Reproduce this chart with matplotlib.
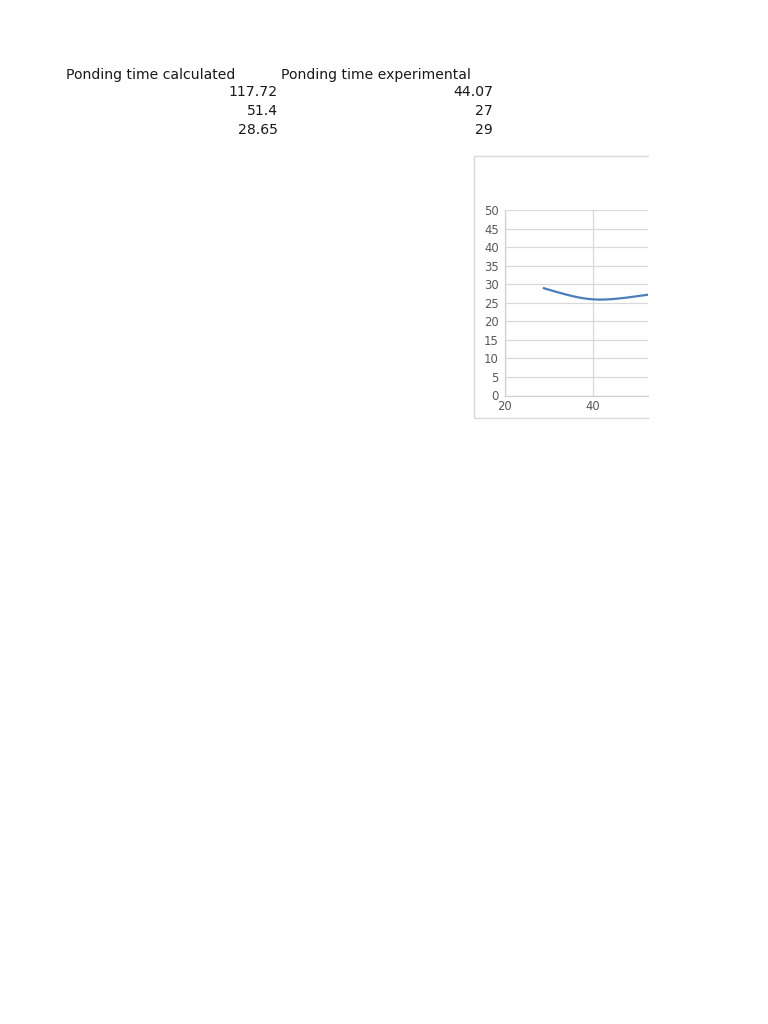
import numpy as np
import matplotlib
matplotlib.use("Agg")
import matplotlib.pyplot as plt
from matplotlib.lines import Line2D

# ---- data ----
header_calc = "Ponding time calculated"
header_exp = "Ponding time experimental"
calculated = [117.72, 51.4, 28.65]
experimental = [44.07, 27, 29]
calc_labels = ["117.72", "51.4", "28.65"]
exp_labels = ["44.07", "27", "29"]
y_ticks = [0, 5, 10, 15, 20, 25, 30, 35, 40, 45, 50]
x_ticks = [20, 40]

W, H = 768, 1024
fig = plt.figure(figsize=(W / 100, H / 100), dpi=100)
fig.patch.set_facecolor("white")


def fx(px):
    return px / W


def fy(py):
    return 1 - py / H


# ---- spreadsheet cells ----
txt_kw = dict(fontsize=10.1, color="#1a1a1a", family="DejaVu Sans", va="center")
fig.text(fx(66), fy(74.5), header_calc, ha="left", **txt_kw)
fig.text(fx(281), fy(74.5), header_exp, ha="left", **txt_kw)
row_y = [92.5, 111, 129.5]
for ry, c, e in zip(row_y, calc_labels, exp_labels):
    fig.text(fx(278), fy(ry), c, ha="right", **txt_kw)
    fig.text(fx(493), fy(ry), e, ha="right", **txt_kw)

# ---- chart border (right side clipped by page) ----
bx0, bx1, by0, by1 = 473.5, 648, 155.5, 418
fig.add_artist(Line2D([fx(bx1), fx(bx0), fx(bx0), fx(bx1)],
                      [fy(by0), fy(by0), fy(by1), fy(by1)],
                      transform=fig.transFigure, color="#d9d9d9", lw=1.0))

# ---- plot area ----
left, right, top, bottom = 504.5, 648, 210, 395.5
xmin = 20
px_per_unit = 88.6 / 20
xmax = xmin + (right - left) / px_per_unit
ax = fig.add_axes([fx(left), fy(bottom), fx(right - left), (bottom - top) / H])
ax.set_xlim(xmin, xmax)
ax.set_ylim(0, 50)
ax.set_yticks(y_ticks)
ax.set_xticks(x_ticks)
ax.grid(True, color="#d9d9d9", lw=0.9)
ax.set_axisbelow(True)
for s in ["top", "right"]:
    ax.spines[s].set_visible(False)
for s in ["left", "bottom"]:
    ax.spines[s].set_color("#d0d0d0")
    ax.spines[s].set_linewidth(0.9)
ax.tick_params(length=0, labelsize=8.4, labelcolor="#595959", pad=3)
ax.tick_params(axis="y", pad=4)


# ---- smoothed scatter line (Bezier through data points) ----
def smooth(xs, ys, frac=0.48):
    P = np.column_stack([xs, ys]).astype(float)
    n = len(P)
    tang = []
    for i in range(n):
        if 0 < i < n - 1:
            t = P[i + 1] - P[i - 1]
            tang.append(t / np.linalg.norm(t))
        else:
            tang.append(None)

    def reflect(v, chord):
        c = chord / np.linalg.norm(chord)
        return 2 * np.dot(v, c) * c - v

    if n > 2:
        tang[0] = reflect(tang[1], P[1] - P[0])
        tang[-1] = reflect(tang[-2], P[-1] - P[-2])
    else:
        d = (P[1] - P[0]) / np.linalg.norm(P[1] - P[0])
        tang[0] = tang[-1] = d
    out = []
    tt = np.linspace(0, 1, 200)[:, None]
    for i in range(n - 1):
        d = np.linalg.norm(P[i + 1] - P[i])
        b0 = P[i]
        b1 = P[i] + tang[i] * frac * d
        b2 = P[i + 1] - tang[i + 1] * frac * d
        b3 = P[i + 1]
        seg = ((1 - tt) ** 3) * b0 + 3 * ((1 - tt) ** 2) * tt * b1 \
            + 3 * (1 - tt) * tt ** 2 * b2 + tt ** 3 * b3
        out.append(seg)
    pts = np.vstack(out)
    return pts[:, 0], pts[:, 1]


sx, sy = smooth(calculated, experimental)
ax.plot(sx, sy, color="#4a7ebb", lw=1.6, solid_capstyle="butt")

fig.savefig("out.png", dpi=100, facecolor="white")
